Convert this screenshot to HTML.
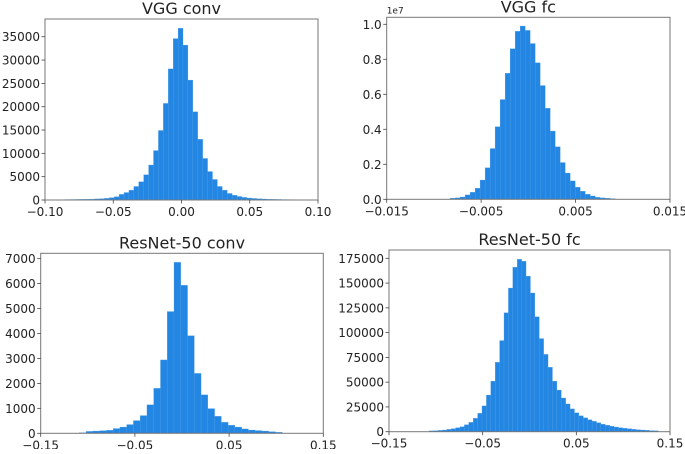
<!DOCTYPE html>
<html><head><meta charset="utf-8"><style>
body{margin:0;background:#fff}
svg text{font-family:"DejaVu Sans","Liberation Sans",sans-serif;fill:#222}
</style></head><body>
<svg id="fig" width="685" height="449" viewBox="0 0 685 449"></svg>
<script>
// VGG conv
const vggConvStart = -0.0853, vggConvWidth = 0.0036;
const vggConvCounts = [100,110,120,140,160,190,230,280,350,500,700,1200,1600,2100,2900,3900,5400,7500,10600,14900,20700,28100,34600,36800,33200,25700,18900,13000,8900,6100,4400,2900,2100,1400,1000,750,550,420,330,260,210,170,140,120,100,90,80,70,60];
const vggConvYTicks = [0,5000,10000,15000,20000,25000,30000,35000];
const vggConvXTicks = [-0.10,-0.05,0.00,0.05,0.10];
const vggConvXLabels = ["\u22120.10","\u22120.05","0.00","0.05","0.10"];
// VGG fc (units of 1e7)
const vggFcStart = -0.00829, vggFcWidth = 0.00053;
const vggFcCounts = [0.006,0.008,0.013,0.025,0.04,0.063,0.11,0.18,0.29,0.415,0.57,0.72,0.86,0.96,0.99,0.965,0.89,0.78,0.65,0.52,0.39,0.30,0.21,0.15,0.105,0.069,0.046,0.029,0.019,0.011,0.008,0.006,0.004];
const vggFcYTicks = [0,0.2,0.4,0.6,0.8,1.0];
const vggFcYLabels = ["0.0","0.2","0.4","0.6","0.8","1.0"];
const vggFcXTicks = [-0.015,-0.005,0.005,0.015];
const vggFcXLabels = ["\u22120.015","\u22120.005","0.005","0.015"];
// ResNet-50 conv
const resConvStart = -0.109, resConvWidth = 0.00718;
const resConvCounts = [20,75,90,105,120,190,250,350,510,710,1140,1800,2940,4880,6850,5930,3910,2400,1540,990,680,440,320,250,175,130,110,90,65,40];
const resConvYTicks = [0,1000,2000,3000,4000,5000,6000,7000];
const resConvXTicks = [-0.15,-0.05,0.05,0.15];
const resConvXLabels = ["\u22120.15","\u22120.05","0.05","0.15"];
// ResNet-50 fc
const resFcStart = -0.1071, resFcWidth = 0.0047;
const resFcCounts = [800,1000,1300,1700,2300,3000,4000,5000,7000,9400,13500,18500,26000,37000,51000,70000,92000,120000,145000,166000,174000,172000,157000,140000,116000,94000,78000,65000,51000,42000,34000,28000,23000,19000,16000,14000,12000,10500,9000,7500,6500,5500,4700,4000,3400,2900,2400,2000,1700,1400,1100,900];
const resFcYTicks = [0,25000,50000,75000,100000,125000,150000,175000];
const resFcXTicks = [-0.15,-0.05,0.05,0.15];
const resFcXLabels = ["\u22120.15","\u22120.05","0.05","0.15"];

const NS = "http://www.w3.org/2000/svg";
const svg = document.getElementById('fig');
function mk(tag, attrs, parent){const e=document.createElementNS(NS,tag);for(const k in attrs)e.setAttribute(k,attrs[k]);(parent||svg).appendChild(e);return e;}

function panel(p){
  const g = mk('g',{});
  
  
  const sx = v => p.l + (v - p.x0)/(p.x1 - p.x0)*(p.r - p.l);
  const sy = v => p.b - v/p.ymax*(p.b - p.t);
  for(let i=0;i<p.counts.length;i++){
    const x0 = sx(p.start + i*p.width), x1 = sx(p.start + (i+1)*p.width);
    const y = sy(p.counts[i]);
    const r = mk('rect',{x:x0,y:y,width:Math.max(0,x1-x0),height:p.b-y,fill:'#2386e2',stroke:'#4d9ee8','stroke-width':0.3},g);
    
    
  }
  const fr = mk('rect',{x:p.l,y:p.t,width:p.r-p.l,height:p.b-p.t,fill:'none',stroke:'#777','stroke-width':1},g);
  
  
  p.yticks.forEach((v,i)=>{
    const y = sy(v);
    mk('line',{x1:p.l-3.5,x2:p.l,y1:y,y2:y,stroke:'#444','stroke-width':0.8},g);
    const t = mk('text',{x:p.l-5,y:y+4.5,'text-anchor':'end','font-size':12},g);
    t.textContent = p.ylabels ? p.ylabels[i] : String(v);
    
    
  });
  p.xticks.forEach((v,i)=>{
    const x = sx(v);
    mk('line',{x1:x,x2:x,y1:p.b,y2:p.b+3.5,stroke:'#444','stroke-width':0.8},g);
    const t = mk('text',{x:x,y:p.b+16,'text-anchor':'middle','font-size':12},g);
    t.textContent = p.xlabels[i];
    
    
  });
  const ti = mk('text',{x:(p.l+p.r)/2,y:p.t-5,'text-anchor':'middle','font-size':16},g);
  ti.textContent = p.title;
  
  
  if(p.offset){
    const o = mk('text',{x:p.l,y:p.t-4,'font-size':9},g);
    o.textContent = p.offset;
    
    
  }
}

panel({name:'vgg-conv-panel',title:'VGG conv',l:45,r:318,t:19,b:200,x0:-0.10,x1:0.10,ymax:38800,start:vggConvStart,width:vggConvWidth,counts:vggConvCounts,yticks:vggConvYTicks,xticks:vggConvXTicks,xlabels:vggConvXLabels});
panel({name:'vgg-fc-panel',title:'VGG fc',l:386.7,r:670,t:17.3,b:199.3,x0:-0.015,x1:0.015,ymax:1.04,start:vggFcStart,width:vggFcWidth,counts:vggFcCounts,yticks:vggFcYTicks,ylabels:vggFcYLabels,xticks:vggFcXTicks,xlabels:vggFcXLabels,offset:'1e7'});
panel({name:'resnet-conv-panel',title:'ResNet-50 conv',l:40.7,r:323.3,t:253.3,b:433.3,x0:-0.15,x1:0.15,ymax:7214,start:resConvStart,width:resConvWidth,counts:resConvCounts,yticks:resConvYTicks,xticks:resConvXTicks,xlabels:resConvXLabels});
panel({name:'resnet-fc-panel',title:'ResNet-50 fc',l:389,r:670,t:250,b:431.7,x0:-0.15,x1:0.15,ymax:183400,start:resFcStart,width:resFcWidth,counts:resFcCounts,yticks:resFcYTicks,xticks:resFcXTicks,xlabels:resFcXLabels});
</script>
</body></html>
